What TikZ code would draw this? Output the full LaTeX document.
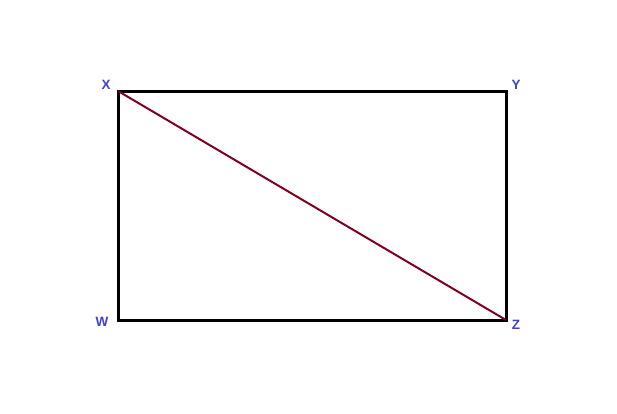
\documentclass[tikz,border=0pt]{standalone}
\usepackage{fontspec}
\setmainfont{Liberation Sans}
\definecolor{lbl}{RGB}{64,64,210}
\definecolor{diag}{RGB}{128,0,32}
\begin{document}
\begin{tikzpicture}[x=1pt,y=-1pt,
  edge/.style={line width=3pt,black},
  diagline/.style={line width=2pt,diag},
  lab/.style={text=lbl,font=\bfseries\fontsize{13.5}{13.5}\selectfont,inner sep=0pt}]
\useasboundingbox (0,0) rectangle (617,413);
\coordinate (X) at (118,91);
\coordinate (Y) at (506,91);
\coordinate (Z) at (506,320);
\coordinate (W) at (118,320);
\draw[edge] (X) -- (Y) -- (Z) -- (W) -- cycle;
\draw[diagline] (X) -- (Z);
\node[lab] (lx) at (106,84.5) {X};
\node[lab] (ly) at (516,84.5) {Y};
\node[lab] (lw) at (102,322) {W};
\node[lab] (lz) at (516,325) {Z};
\end{tikzpicture}
\end{document}
